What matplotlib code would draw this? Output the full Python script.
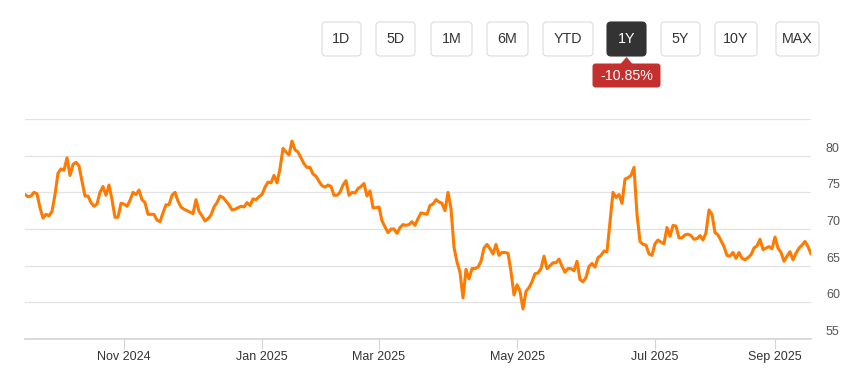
"""1Y price chart with range selector buttons (Highstock-like look)."""

import matplotlib

matplotlib.use("Agg")
import matplotlib.pyplot as plt
from matplotlib.patches import FancyBboxPatch, Polygon
from matplotlib.transforms import offset_copy

plt.rcParams["font.family"] = ["Liberation Sans", "DejaVu Sans"]

# closing prices, one per trading session
PRICES = [
    74.7, 74.4, 74.5, 75.0, 74.8, 72.9, 71.5, 72.0, 71.8, 72.4,
    74.7, 77.6, 78.2, 78.0, 79.7, 77.3, 78.8, 79.1, 78.6, 76.5,
    74.5, 74.5, 73.6, 73.1, 73.4, 75.0, 75.8, 74.6, 76.0, 74.0,
    71.6, 71.6, 73.5, 73.4,
    73.1, 73.9, 75.0, 74.7, 75.3, 74.0, 73.6, 72.0, 72.0, 72.0,
    71.2, 71.0, 72.2, 73.3, 73.3, 74.6, 75.0, 73.8, 73.0, 72.7,
    72.5, 72.3, 72.1, 74.0, 72.4, 71.8, 71.1, 71.4, 71.9, 73.0,
    73.6, 74.5, 74.3,
    73.8, 73.3, 72.6, 72.7, 72.9, 73.1, 73.0, 73.6, 73.2, 74.1,
    74.0, 74.4, 74.7, 75.7, 76.4, 76.3, 77.3, 76.3, 78.2, 81.0,
    80.5, 80.1, 82.0, 80.8, 80.5, 79.7, 78.9, 78.4, 78.4, 77.5,
    77.2, 76.5, 75.9, 75.7,
    76.0, 75.8, 74.6, 74.6, 75.0, 76.0, 76.6, 74.6, 75.0, 74.9,
    75.5, 75.8, 76.2, 74.5, 75.2, 72.9, 72.9, 73.0, 71.1, 70.3,
    69.5, 70.0, 70.0, 69.4, 70.2, 70.6, 70.5, 70.6, 71.0, 70.5,
    71.4, 72.2, 72.1,
    72.0, 73.2, 73.4, 74.0, 73.7, 73.5, 72.5, 75.0, 72.8, 67.5,
    65.5, 64.1, 60.6, 64.5, 63.2, 64.6, 64.6, 64.8, 65.6, 67.4,
    67.9, 67.3, 66.6, 67.9, 66.4, 66.8, 66.8, 66.7, 64.2, 61.0,
    62.4, 61.5, 59.1,
    61.5, 62.0, 62.8, 63.9, 64.0, 64.6, 66.3, 64.6, 65.0, 65.4,
    65.4, 65.9, 64.9, 64.1, 64.6, 64.6, 64.3, 65.6, 63.1, 62.8,
    63.4, 64.9, 65.3, 64.8, 66.1, 66.4, 67.0, 66.9, 71.0, 75.0,
    74.3, 74.7, 73.5, 76.8,
    77.0, 77.3, 78.4, 72.0, 68.3, 67.9, 67.8, 66.6, 66.4, 68.0,
    68.5, 68.2, 68.0, 70.2, 69.0, 70.5, 70.4, 68.8, 68.8, 69.2,
    69.3, 69.1, 68.6, 68.7, 69.1, 68.5, 69.5, 72.6, 72.0, 69.5,
    69.2, 68.4, 67.6,
    66.4, 66.3, 66.8, 66.0, 66.8, 66.0, 65.8, 66.1, 66.5, 67.4,
    67.7, 68.6, 67.2, 67.4, 67.6, 67.3, 68.9, 67.4, 66.8, 65.6,
    66.3, 66.9, 65.8, 66.7, 67.4, 67.8, 68.3, 67.6, 66.6,
]

# session index of the first trading day of each labelled month
MONTH_TICKS = [33, 79, 118, 164, 210, 250]
MONTH_LABELS = ["Nov 2024", "Jan 2025", "Mar 2025", "May 2025", "Jul 2025", "Sep 2025"]
Y_GRID = [55, 60, 65, 70, 75, 80, 85]
Y_LABELS = [55, 60, 65, 70, 75, 80]

RANGE_BUTTONS = ["1D", "5D", "1M", "6M", "YTD", "1Y", "5Y", "10Y", "MAX"]
ACTIVE_RANGE = "1Y"
CHANGE_LABEL = "-10.85%"

# layout (pixels)
W, H = 850, 376
BUTTON_LEFT = [322, 376, 431, 487, 543, 607, 661, 715, 776]
BUTTON_WIDTH = [39, 39, 41, 41, 50, 39, 39, 42, 43]
BUTTON_TOP, BUTTON_H = 22, 34

LINE_COLOR = "#ff7a00"
GRID_COLOR = "#e3e3e3"
AXIS_COLOR = "#d4d4d4"
BADGE_COLOR = "#c3302e"
TICK_FONT = 9.0

fig = plt.figure(figsize=(W / 100, H / 100), dpi=100)
fig.patch.set_facecolor("white")

# --- price chart ---
ax = fig.add_axes([25 / W, 1 - 339 / H, 786 / W, 220 / H])
ax.plot(range(len(PRICES)), PRICES, color=LINE_COLOR, lw=2.2,
        solid_joinstyle="round", solid_capstyle="round", zorder=3)
ax.set_xlim(0, len(PRICES) - 1)
ax.set_ylim(55, 85)

ax.set_yticks(Y_GRID)
ax.set_yticklabels([])
ax.tick_params(axis="y", length=0)
ax.grid(True, axis="y", color=GRID_COLOR, lw=0.9)
ax.set_axisbelow(True)

ax.set_xticks(MONTH_TICKS, MONTH_LABELS)
ax.tick_params(axis="x", length=7.5, width=0.8, color=AXIS_COLOR,
               labelsize=TICK_FONT, labelcolor="#333333", pad=1)
for side in ("top", "right", "left"):
    ax.spines[side].set_visible(False)
ax.spines["bottom"].set_color(AXIS_COLOR)
ax.spines["bottom"].set_linewidth(1.2)

label_tf = offset_copy(ax.get_yaxis_transform(), fig=fig, x=15, y=7, units="dots")
for v in Y_LABELS:
    ax.text(1, v, str(v), transform=label_tf, ha="left", va="center",
            fontsize=TICK_FONT, color="#555555")

# --- range selector ---
ui = fig.add_axes([0, 0, 1, 1])
ui.set_xlim(0, W)
ui.set_ylim(H, 0)
ui.axis("off")

for label, left, width in zip(RANGE_BUTTONS, BUTTON_LEFT, BUTTON_WIDTH):
    active = label == ACTIVE_RANGE
    ui.add_patch(FancyBboxPatch(
        (left, BUTTON_TOP), width, BUTTON_H,
        boxstyle="round,pad=0,rounding_size=4",
        facecolor="#333333" if active else "white",
        edgecolor="#333333" if active else "#dcdcdc",
        lw=0.8,
    ))
    ui.text(left + width / 2, BUTTON_TOP + BUTTON_H / 2, label,
            ha="center", va="center", fontsize=10.3,
            color="white" if active else "#333333")

    if active:
        cx = left + width / 2
        ui.add_patch(Polygon([(cx - 6, 64), (cx, 57), (cx + 6, 64)],
                             closed=True, facecolor=BADGE_COLOR, edgecolor="none"))
        ui.add_patch(FancyBboxPatch(
            (cx - 34, 63.5), 68, 24,
            boxstyle="round,pad=0,rounding_size=3",
            facecolor=BADGE_COLOR, edgecolor="none",
        ))
        ui.text(cx, 76, CHANGE_LABEL, ha="center", va="center",
                fontsize=10.3, color="white")

fig.savefig("out.png", dpi=100, facecolor=fig.get_facecolor())
plt.close(fig)
